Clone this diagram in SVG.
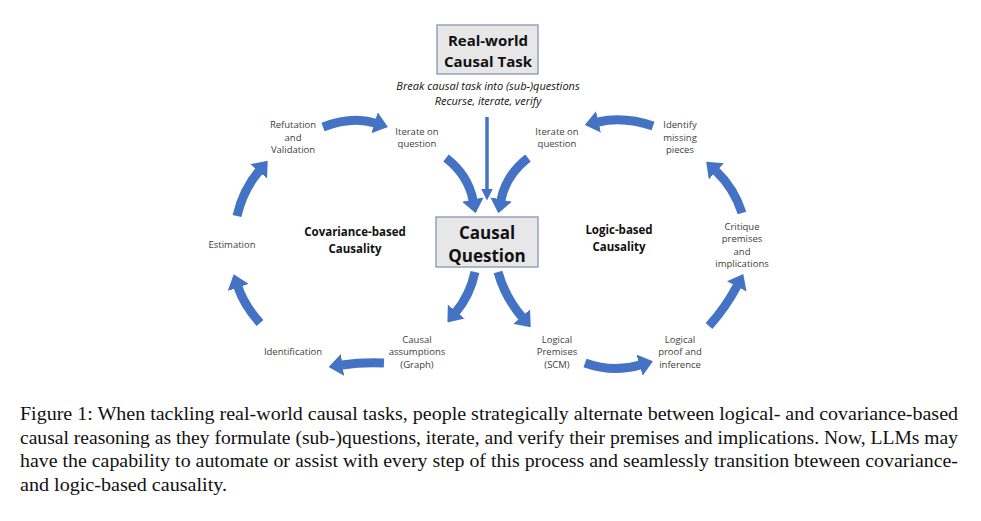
<svg xmlns="http://www.w3.org/2000/svg" width="981" height="521" viewBox="0 0 981 521">
<style>
.box{fill:#e7e7e7;stroke:#8496b0;stroke-width:1.3}
.lbl{font-family:"Open Sans","Liberation Sans",sans-serif;font-size:9.5px;fill:#404040;text-anchor:middle}
.bold{font-family:"Open Sans","Liberation Sans",sans-serif;font-weight:bold;fill:#111;text-anchor:middle}
.it{font-family:"Open Sans","Liberation Sans",sans-serif;font-style:italic;font-size:11px;fill:#111;text-anchor:middle}
.band{fill:none;stroke:#4472c4;stroke-width:9}
.thin{fill:none;stroke:#4472c4;stroke-width:3.5}
.cap{font-family:"Liberation Serif","Times New Roman",serif;font-size:19px;fill:#111}
</style>
<defs>
<marker id="head" viewBox="0 0 14 22" refX="0.5" refY="11" markerUnits="userSpaceOnUse" markerWidth="14" markerHeight="22" orient="auto">
<path d="M0,0 L14,11 L0,22 z" fill="#4472c4"/>
</marker>
<marker id="headThin" viewBox="0 0 12 12" refX="0.5" refY="6" markerUnits="userSpaceOnUse" markerWidth="12" markerHeight="12" orient="auto">
<path d="M0,0 L12,6 L0,12 z" fill="#4472c4"/>
</marker>
</defs>

<g id="connectors">
<path class="band" d="M323,127 Q352,116 375,123" marker-end="url(#head)"/>
<path class="band" d="M446,158 Q468,175 473,200" marker-end="url(#head)"/>
<path class="band" d="M528,158 Q506,175 501,200" marker-end="url(#head)"/>
<path class="thin" d="M487,117 L487,189" marker-end="url(#headThin)"/>
<path class="band" d="M475,272 Q470,295 456,312" marker-end="url(#head)"/>
<path class="band" d="M498,272 Q505,297 522,317" marker-end="url(#head)"/>
<path class="band" d="M384,363 Q362,362 342,365" marker-end="url(#head)"/>
<path class="band" d="M260,323 Q244,305 238,287" marker-end="url(#head)"/>
<path class="band" d="M237,216 Q243,190 259,171" marker-end="url(#head)"/>
<path class="band" d="M585,363 Q613,373 640,365" marker-end="url(#head)"/>
<path class="band" d="M709,326 Q726,307 737,286" marker-end="url(#head)"/>
<path class="band" d="M742,213 Q734,188 716,171" marker-end="url(#head)"/>
<path class="band" d="M653,126 Q624,116 598,122" marker-end="url(#head)"/>
</g>

<g id="task">
<rect class="box" x="437" y="25" width="101" height="49"/>
<text class="bold" x="488" y="46" font-size="15">Real-world</text>
<text class="bold" x="488" y="67" font-size="15">Causal Task</text>
<text class="it" x="488" y="90">Break causal task into (sub-)questions</text>
<text class="it" x="488" y="105">Recurse, iterate, verify</text>
</g>

<g id="question">
<rect class="box" x="436" y="217" width="102" height="50"/>
<text class="bold" x="487" y="239" font-size="17">Causal</text>
<text class="bold" x="487" y="262" font-size="17">Question</text>
</g>

<g id="covariance">
<text class="bold" x="355" y="236" font-size="11.5">Covariance-based</text>
<text class="bold" x="355" y="253" font-size="11.5">Causality</text>
</g>

<g id="logic">
<text class="bold" x="619" y="234" font-size="11.5">Logic-based</text>
<text class="bold" x="619" y="251" font-size="11.5">Causality</text>
</g>

<g id="iterate-left">
<text class="lbl" x="417" y="135">Iterate on</text>
<text class="lbl" x="417" y="147">question</text>
</g>
<g id="iterate-right">
<text class="lbl" x="557" y="135">Iterate on</text>
<text class="lbl" x="557" y="147">question</text>
</g>
<g id="refutation">
<text class="lbl" x="293" y="128">Refutation</text>
<text class="lbl" x="293" y="140.5">and</text>
<text class="lbl" x="293" y="153">Validation</text>
</g>
<g id="identify">
<text class="lbl" x="680" y="128">Identify</text>
<text class="lbl" x="680" y="140.5">missing</text>
<text class="lbl" x="680" y="153">pieces</text>
</g>
<g id="estimation">
<text class="lbl" x="232" y="247.5">Estimation</text>
</g>
<g id="critique">
<text class="lbl" x="742" y="229.5">Critique</text>
<text class="lbl" x="742" y="242">premises</text>
<text class="lbl" x="742" y="254.5">and</text>
<text class="lbl" x="742" y="267">implications</text>
</g>
<g id="assumptions">
<text class="lbl" x="417" y="342.5">Causal</text>
<text class="lbl" x="417" y="355">assumptions</text>
<text class="lbl" x="417" y="367.5">(Graph)</text>
</g>
<g id="identification">
<text class="lbl" x="293" y="354.5">Identification</text>
</g>
<g id="premises">
<text class="lbl" x="557" y="342.5">Logical</text>
<text class="lbl" x="557" y="355">Premises</text>
<text class="lbl" x="557" y="367.5">(SCM)</text>
</g>
<g id="proof">
<text class="lbl" x="680" y="342.5">Logical</text>
<text class="lbl" x="680" y="355">proof and</text>
<text class="lbl" x="680" y="367.5">inference</text>
</g>

<g id="caption">
<text class="cap" x="20" y="420" textLength="938" lengthAdjust="spacingAndGlyphs">Figure 1: When tackling real-world causal tasks, people strategically alternate between logical- and covariance-based</text>
<text class="cap" x="20" y="444" textLength="938" lengthAdjust="spacingAndGlyphs">causal reasoning as they formulate (sub-)questions, iterate, and verify their premises and implications. Now, LLMs may</text>
<text class="cap" x="20" y="467" textLength="938" lengthAdjust="spacingAndGlyphs">have the capability to automate or assist with every step of this process and seamlessly transition bteween covariance-</text>
<text class="cap" x="20" y="491" textLength="207" lengthAdjust="spacingAndGlyphs">and logic-based causality.</text>
</g>
</svg>
